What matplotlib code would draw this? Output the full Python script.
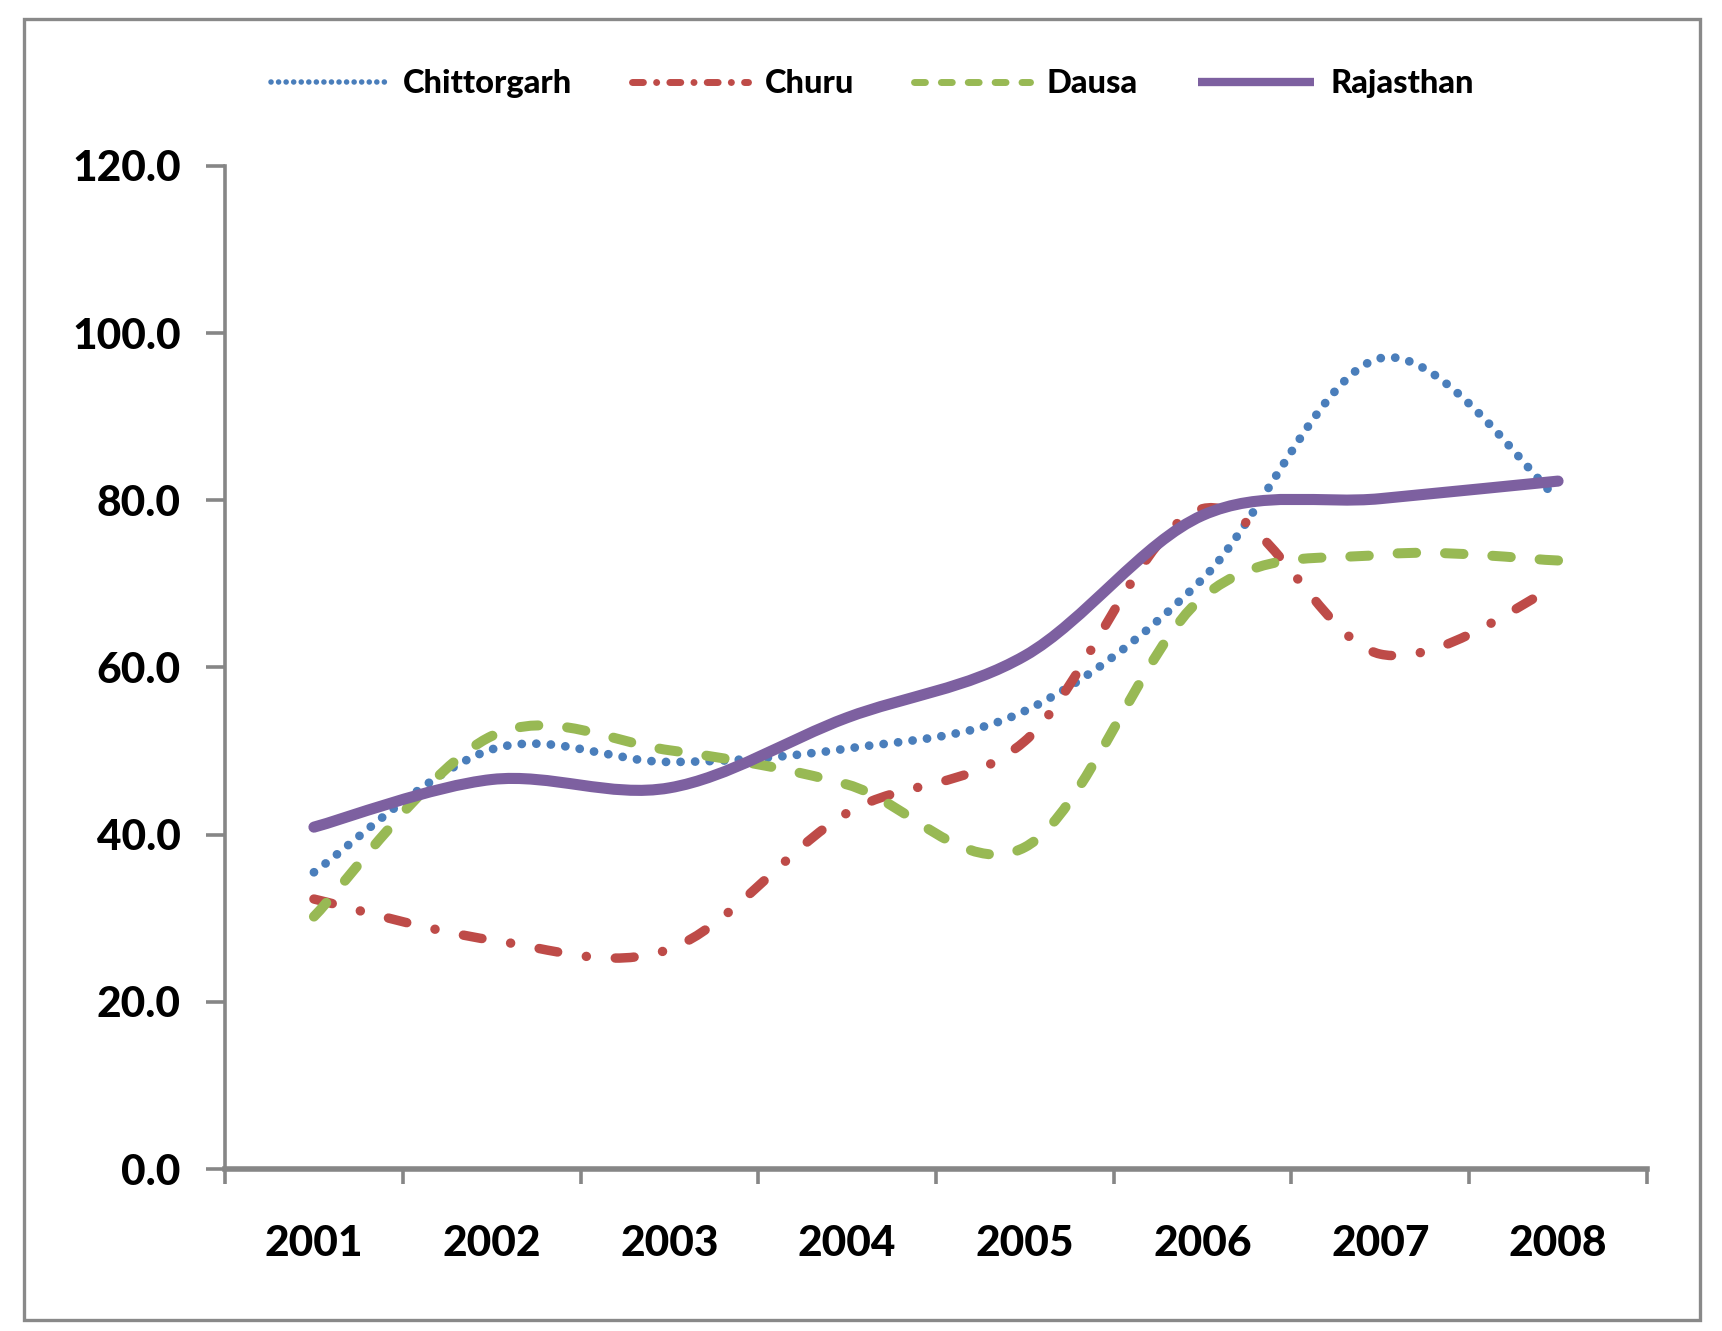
import numpy as np
import matplotlib
matplotlib.use("Agg")
import matplotlib.pyplot as plt
from matplotlib.path import Path
from matplotlib.patches import PathPatch, Rectangle
from matplotlib.lines import Line2D
from matplotlib.ticker import FixedLocator, FixedFormatter, NullFormatter

years = ["2001", "2002", "2003", "2004", "2005", "2006", "2007", "2008"]
chittorgarh = [35.5, 50.2, 48.7, 50.3, 54.8, 70.6, 97.0, 80.2]
churu = [32.3, 27.4, 26.3, 42.6, 51.2, 79.0, 61.6, 69.8]
dausa = [30.2, 51.8, 50.1, 46.0, 38.5, 68.4, 73.5, 72.8]
rajasthan = [40.9, 46.6, 45.6, 54.0, 61.4, 78.2, 80.2, 82.3]
series_names = ["Chittorgarh", "Churu", "Dausa", "Rajasthan"]
series_values = [chittorgarh, churu, dausa, rajasthan]
y_ticks = [0, 20, 40, 60, 80, 100, 120]

colors = ["#4A7EBB", "#BE4B48", "#98B954", "#7D60A0"]
widths = [6.3, 6.8, 7.2, 8.0]
# dash kinds: (marks in lw units, nominal gap in lw units)
dash_kinds = [("dot", 1.65), ("dashdot", 3.0), ("dash", 2.95), ("solid", 0)]
leg_widths = [4.0, 5.0, 5.0, 6.0]
leg_styles = [(0, (0.01, 1.35)), (0, (1.57, 1.9, 0.01, 1.9)), (0, (1.57, 2.3)), "solid"]

FONT = "Lato"
WEIGHT = "black"
plt.rcParams["font.family"] = [FONT, "DejaVu Sans"]
plt.rcParams["font.weight"] = WEIGHT

DPI = 100
fig = plt.figure(figsize=(17.22, 13.31), dpi=DPI)
ax = fig.add_axes([0.1307, 0.1217, 0.9564 - 0.1307, 0.8753 - 0.1217])
ax.set_xlim(-0.5, len(years) - 0.5)
ax.set_ylim(0, 120)


def smooth_path(xs, ys):
    pts = np.column_stack([xs, ys]).astype(float)
    n = len(pts)
    verts = [pts[0]]
    codes = [Path.MOVETO]
    for i in range(n - 1):
        p0 = pts[i - 1] if i > 0 else pts[i]
        p1 = pts[i]
        p2 = pts[i + 1]
        p3 = pts[i + 2] if i + 2 < n else pts[i + 1]
        c1 = p1 + (p2 - p0) / 6.0
        c2 = p2 - (p3 - p1) / 6.0
        verts += [c1, c2, p2]
        codes += [Path.CURVE4] * 3
    return Path(verts, codes)


def path_length_lw(path, lw):
    disp = ax.transData.transform_path(path)
    total = 0.0
    for poly in disp.to_polygons(closed_only=False):
        total += np.sum(np.hypot(*np.diff(poly, axis=0).T))
    return total * 72.0 / DPI / lw


def fitted_style(kind, gap, L):
    if kind == "solid":
        return "solid"
    if kind == "dot":
        n = max(1, round(L / (gap + 0.01)))
        return (0, (0.01, L / n - 0.01))
    if kind == "dash":
        a = 1.85
        n = max(1, round((L - a) / (a + gap)))
        g = (L - a) / n - a
        return (0, (a, g))
    # dash-dot, ending on the dot
    a, d = 2.0, 0.01
    n = max(0, round((L - a - gap) / (a + 2 * gap + d)))
    g = (L - a - n * (a + d)) / (2 * n + 1)
    return (0, (a, g, d, g))


x = np.arange(len(years))
handles = []
for name, vals, c, lw, (kind, gap), llw, lls in zip(series_names, series_values, colors,
                                                    widths, dash_kinds, leg_widths, leg_styles):
    path = smooth_path(x, vals)
    ls = fitted_style(kind, gap, path_length_lw(path, lw))
    patch = PathPatch(path, fill=False, edgecolor=c, linewidth=lw,
                      linestyle=ls, capstyle="round", joinstyle="round", zorder=3)
    ax.add_patch(patch)
    h = Line2D([], [], color=c, linewidth=llw, linestyle=lls,
               dash_capstyle="round", solid_capstyle="butt")
    handles.append(h)

axis_gray = "#868686"
for s in ["top", "right"]:
    ax.spines[s].set_visible(False)
ax.spines["left"].set_color(axis_gray)
ax.spines["left"].set_linewidth(2.6)
ax.spines["bottom"].set_color(axis_gray)
ax.spines["bottom"].set_linewidth(4.0)

ax.set_yticks(y_ticks)
ax.set_yticklabels([f"{v:.1f}" for v in y_ticks])
ax.tick_params(axis="y", direction="out", length=14, width=2.6, color=axis_gray,
               pad=18, labelsize=30.5)

ax.xaxis.set_major_locator(FixedLocator(np.arange(-0.5, len(years), 1.0)))
ax.xaxis.set_major_formatter(NullFormatter())
ax.xaxis.set_minor_locator(FixedLocator(x))
ax.xaxis.set_minor_formatter(FixedFormatter(years))
ax.tick_params(axis="x", which="major", direction="out", length=11, width=2.6,
               color=axis_gray)
ax.tick_params(axis="x", which="minor", length=0, pad=40, labelsize=30.5)
for lab in ax.get_xticklabels(minor=True) + ax.get_yticklabels():
    lab.set_fontweight(WEIGHT)

leg = fig.legend(handles, series_names, ncol=4, loc="center",
                 bbox_to_anchor=(0.5065, 0.937), frameon=False,
                 prop={"family": FONT, "weight": WEIGHT, "size": 23.5},
                 handlelength=3.55, handletextpad=0.5, columnspacing=1.85)

fig.patches.append(Rectangle((0.0139, 0.0083), 0.9872 - 0.0139, 0.9857 - 0.0083,
                             transform=fig.transFigure, fill=False,
                             edgecolor="#898989", linewidth=2.4))

fig.savefig("out.png", dpi=DPI)
